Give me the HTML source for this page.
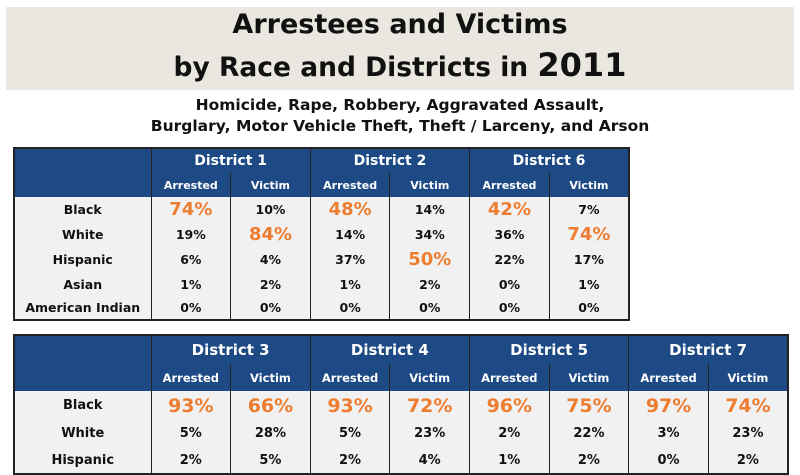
<!DOCTYPE html>
<html><head><meta charset="utf-8"><style>
body{margin:0;width:800px;height:450px;background:#fff;overflow:hidden;position:relative;font-family:"DejaVu Sans",Verdana,sans-serif;font-weight:bold;}
.band{position:absolute;left:6px;top:7px;width:788px;height:83px;background:#e9e7df;}
.t1{position:absolute;left:0;width:800px;text-align:center;color:#111;}
table{position:absolute;border-collapse:collapse;table-layout:fixed;border:2px solid #222;}
td{padding:0;text-align:center;border-left:1.5px solid #222;white-space:nowrap;}
.h td{background:#1d4a84;color:#fff;}
.b td{background:#f1f1f1;color:#111;}
.b td.o{color:#ed7d31;}
</style></head><body>
<div class="band"></div>
<div class="t1" style="top:9px;font-size:27px;">Arrestees and Victims</div>
<div class="t1" style="top:46px;font-size:26.5px;">by Race and Districts in <span style="font-size:32px">2011</span></div>
<div class="t1" style="top:96px;font-size:15.5px;">Homicide, Rape, Robbery, Aggravated Assault,</div>
<div class="t1" style="top:117px;font-size:15.5px;">Burglary, Motor Vehicle Theft, Theft / Larceny, and Arson</div>

<table style="left:13px;top:147px;width:617px;font-size:12.5px;">
<colgroup><col style="width:137px"><col><col><col><col><col><col></colgroup>
<tr class="h" style="height:25px;font-size:14px"><td rowspan="2"></td><td colspan="2">District 1</td><td colspan="2">District 2</td><td colspan="2">District 6</td></tr>
<tr class="h" style="height:24px;font-size:11px"><td>Arrested</td><td>Victim</td><td>Arrested</td><td>Victim</td><td>Arrested</td><td>Victim</td></tr>
<tr class="b" style="height:25px"><td>Black</td><td class="o" style="font-size:18px">74%</td><td>10%</td><td class="o" style="font-size:18px">48%</td><td>14%</td><td class="o" style="font-size:18px">42%</td><td>7%</td></tr>
<tr class="b" style="height:25px"><td>White</td><td>19%</td><td class="o" style="font-size:18px">84%</td><td>14%</td><td>34%</td><td>36%</td><td class="o" style="font-size:18px">74%</td></tr>
<tr class="b" style="height:25px"><td>Hispanic</td><td>6%</td><td>4%</td><td>37%</td><td class="o" style="font-size:18px">50%</td><td>22%</td><td>17%</td></tr>
<tr class="b" style="height:24px"><td>Asian</td><td>1%</td><td>2%</td><td>1%</td><td>2%</td><td>0%</td><td>1%</td></tr>
<tr class="b" style="height:24px"><td>American Indian</td><td>0%</td><td>0%</td><td>0%</td><td>0%</td><td>0%</td><td>0%</td></tr>
</table>

<table style="left:13px;top:334px;width:776px;font-size:13px;">
<colgroup><col style="width:137px"><col><col><col><col><col><col><col><col></colgroup>
<tr class="h" style="height:29px;font-size:15px"><td rowspan="2"></td><td colspan="2">District 3</td><td colspan="2">District 4</td><td colspan="2">District 5</td><td colspan="2">District 7</td></tr>
<tr class="h" style="height:27px;font-size:11.5px"><td>Arrested</td><td>Victim</td><td>Arrested</td><td>Victim</td><td>Arrested</td><td>Victim</td><td>Arrested</td><td>Victim</td></tr>
<tr class="b" style="height:29px"><td>Black</td><td class="o" style="font-size:19px">93%</td><td class="o" style="font-size:19px">66%</td><td class="o" style="font-size:19px">93%</td><td class="o" style="font-size:19px">72%</td><td class="o" style="font-size:19px">96%</td><td class="o" style="font-size:19px">75%</td><td class="o" style="font-size:19px">97%</td><td class="o" style="font-size:19px">74%</td></tr>
<tr class="b" style="height:27px"><td>White</td><td>5%</td><td>28%</td><td>5%</td><td>23%</td><td>2%</td><td>22%</td><td>3%</td><td>23%</td></tr>
<tr class="b" style="height:27px"><td>Hispanic</td><td>2%</td><td>5%</td><td>2%</td><td>4%</td><td>1%</td><td>2%</td><td>0%</td><td>2%</td></tr>
</table>
</body></html>
